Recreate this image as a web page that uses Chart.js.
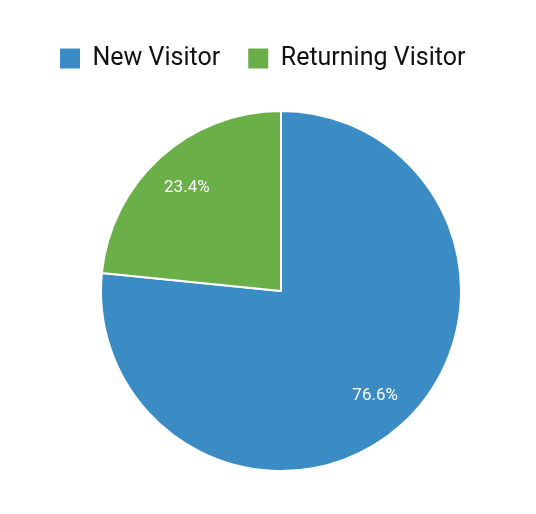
<!DOCTYPE html>
<html>
<head>
<meta charset="utf-8">
<script src="https://cdn.jsdelivr.net/npm/chart.js@4/dist/chart.umd.min.js"></script>
<style>
  html, body { margin: 0; padding: 0; background: #fff; }
  #wrap { width: 536px; height: 514px; }
</style>
</head>
<body>
<div id="wrap"><canvas id="visitorChart"></canvas></div>
<script>
const visitorLabels = ['New Visitor', 'Returning Visitor'];
const visitorShares = [76.6, 23.4];
const sliceColors = ['#3b8cc4', '#6aaf47'];

// draws the percentage inside each slice
const sliceLabels = {
    id: 'sliceLabels',
    afterDatasetsDraw(chart) {
        const ctx = chart.ctx;
        const meta = chart.getDatasetMeta(0);
        ctx.save();
        ctx.fillStyle = '#ffffff';
        ctx.font = '17px Roboto';
        ctx.textAlign = 'center';
        ctx.textBaseline = 'middle';
        meta.data.forEach((arc, i) => {
            const mid = (arc.startAngle + arc.endAngle) / 2;
            const r = arc.outerRadius * 0.78;
            ctx.fillText(visitorShares[i].toFixed(1) + '%', arc.x + Math.cos(mid) * r, arc.y + Math.sin(mid) * r + 1);
        });
        ctx.restore();
    }
};

document.addEventListener('DOMContentLoaded', () => {
    var ctx = document.getElementById('visitorChart').getContext('2d');
    window.visitorChart = new Chart(ctx, {
        type: 'pie',
        data: {
            labels: visitorLabels,
            datasets: [{
                data: visitorShares,
                backgroundColor: sliceColors,
                borderColor: '#ffffff',
                borderWidth: 2,
                radius: 180
            }]
        },
        options: {
            responsive: true,
            maintainAspectRatio: false,
            animation: false,
            layout: {
                padding: { top: 18, bottom: 13, left: 32, right: 6 }
            },
            plugins: {
                tooltip: { enabled: false },
                legend: {
                    position: 'top',
                    align: 'start',
                    labels: {
                        boxWidth: 20,
                        boxHeight: 20,
                        padding: 28,
                        color: '#111111',
                        font: { family: 'Roboto', size: 25 },
                        generateLabels(chart) {
                            // plain filled squares, no white outline
                            const items = Chart.controllers.pie.overrides.plugins.legend.labels.generateLabels(chart);
                            items.forEach(item => { item.lineWidth = 0; });
                            return items;
                        }
                    }
                }
            }
        },
        plugins: [sliceLabels]
    });
});
</script>
</body>
</html>
